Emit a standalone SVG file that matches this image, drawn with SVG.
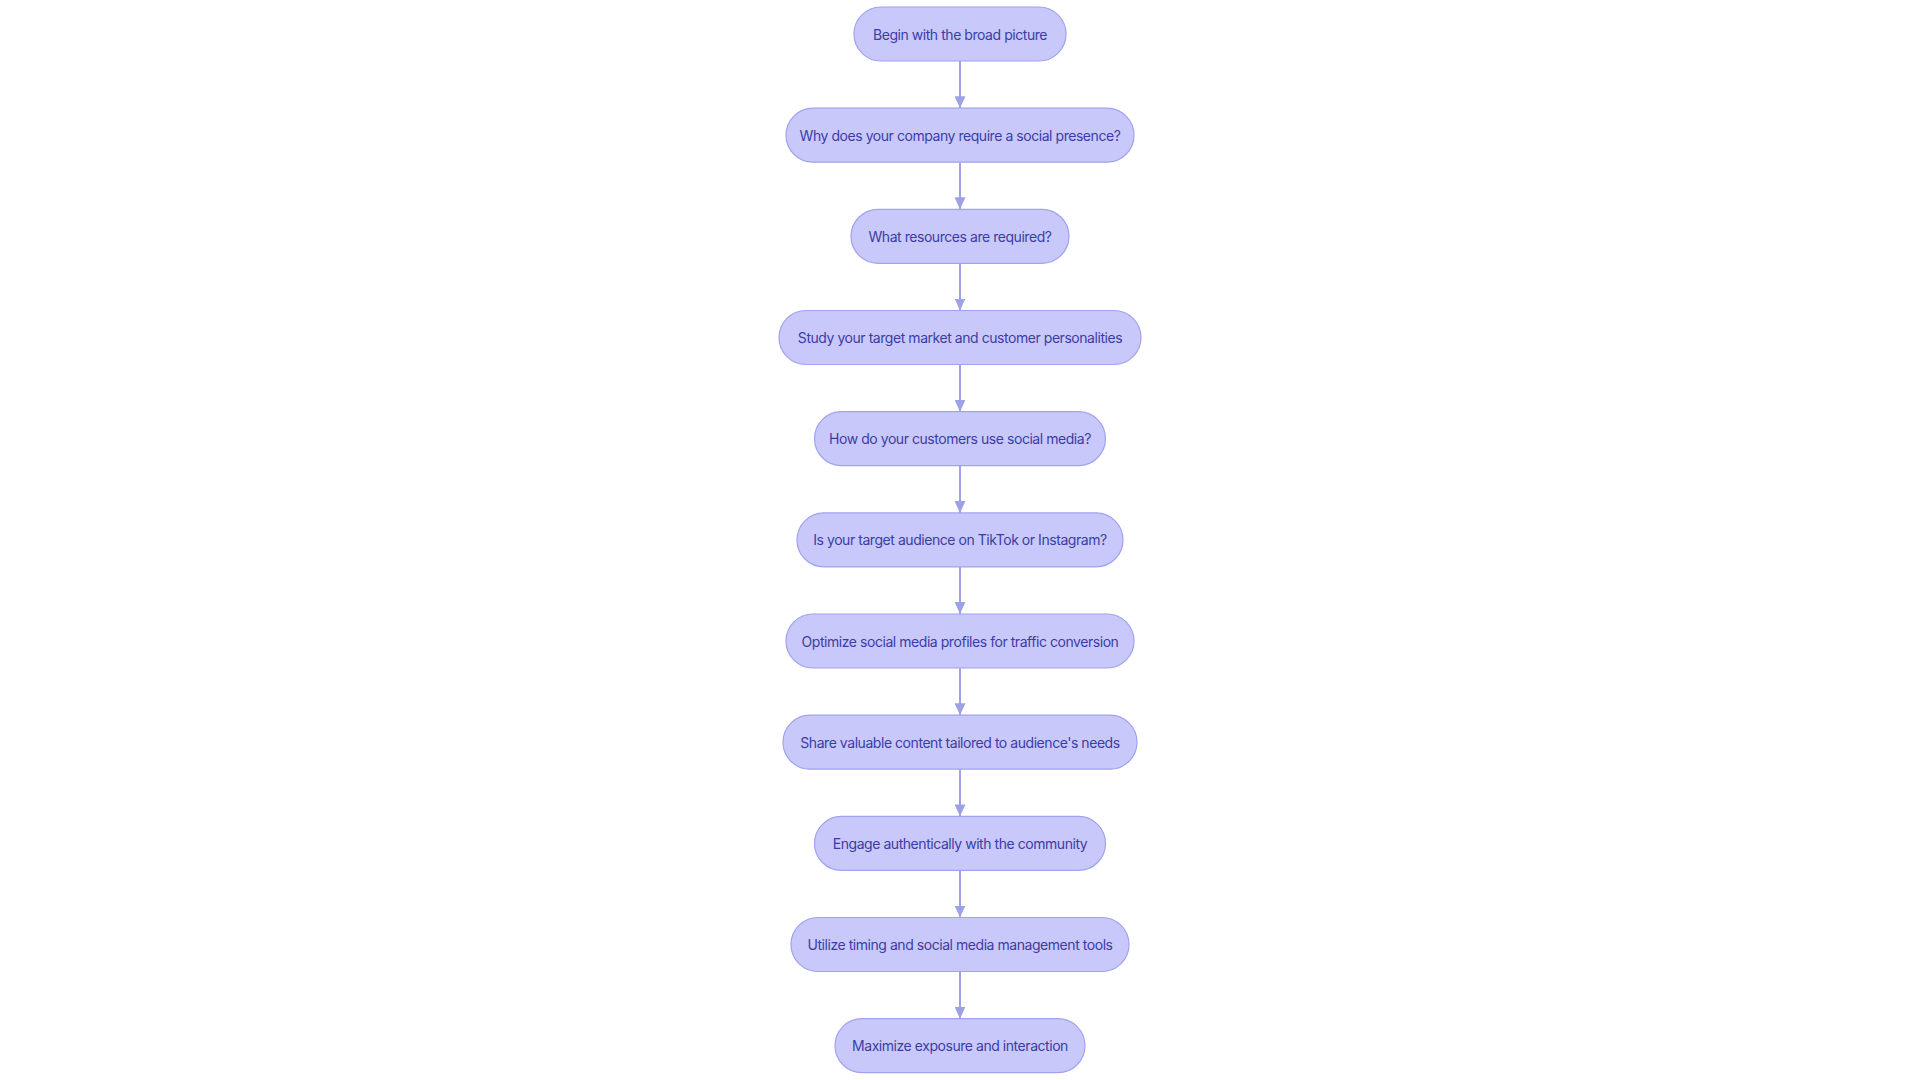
<svg xmlns="http://www.w3.org/2000/svg" width="1920" height="1080" viewBox="0 0 1920 1080">
<defs>
<style>
.node rect{fill:#c8c9fa;stroke:#9fa2ee;stroke-width:1.2}
.node text{font-family:Inter,"Noto Sans",sans-serif;font-size:14px;letter-spacing:-0.45px;fill:#3c3ca6;text-anchor:middle;dominant-baseline:central}
.edge{stroke:#9fa1e6;stroke-width:2;fill:none}
</style>
<marker id="arr" viewBox="0 0 12 11" refX="12" refY="5.5" markerWidth="12" markerHeight="11" markerUnits="userSpaceOnUse" orient="auto">
<path d="M0,0 L12,5.5 L0,11 Z" fill="#9fa1e6"/>
</marker>
</defs>
<rect width="1920" height="1080" fill="#ffffff"/>
<g id="connectors">
<line class="edge" x1="960" y1="61" x2="960" y2="108.2" marker-end="url(#arr)"/>
<line class="edge" x1="960" y1="162.2" x2="960" y2="209.3" marker-end="url(#arr)"/>
<line class="edge" x1="960" y1="263.3" x2="960" y2="310.5" marker-end="url(#arr)"/>
<line class="edge" x1="960" y1="364.5" x2="960" y2="411.7" marker-end="url(#arr)"/>
<line class="edge" x1="960" y1="465.7" x2="960" y2="512.9" marker-end="url(#arr)"/>
<line class="edge" x1="960" y1="566.9" x2="960" y2="614" marker-end="url(#arr)"/>
<line class="edge" x1="960" y1="668" x2="960" y2="715.2" marker-end="url(#arr)"/>
<line class="edge" x1="960" y1="769.2" x2="960" y2="816.4" marker-end="url(#arr)"/>
<line class="edge" x1="960" y1="870.4" x2="960" y2="917.5" marker-end="url(#arr)"/>
<line class="edge" x1="960" y1="971.5" x2="960" y2="1018.7" marker-end="url(#arr)"/>
</g>
<g id="n1" class="node"><rect x="854" y="7" width="212" height="54" rx="27"/><text x="960" y="34">Begin with the broad picture</text></g>
<g id="n2" class="node"><rect x="786" y="108.2" width="348" height="54" rx="27"/><text x="960" y="135.2">Why does your company require a social presence?</text></g>
<g id="n3" class="node"><rect x="851" y="209.3" width="218" height="54" rx="27"/><text x="960" y="236.3">What resources are required?</text></g>
<g id="n4" class="node"><rect x="779" y="310.5" width="362" height="54" rx="27"/><text x="960" y="337.5">Study your target market and customer personalities</text></g>
<g id="n5" class="node"><rect x="814.5" y="411.7" width="291" height="54" rx="27"/><text x="960" y="438.7">How do your customers use social media?</text></g>
<g id="n6" class="node"><rect x="797" y="512.9" width="326" height="54" rx="27"/><text x="960" y="539.9">Is your target audience on TikTok or Instagram?</text></g>
<g id="n7" class="node"><rect x="786" y="614" width="348" height="54" rx="27"/><text x="960" y="641">Optimize social media profiles for traffic conversion</text></g>
<g id="n8" class="node"><rect x="783" y="715.2" width="354" height="54" rx="27"/><text x="960" y="742.2">Share valuable content tailored to audience's needs</text></g>
<g id="n9" class="node"><rect x="814.5" y="816.4" width="291" height="54" rx="27"/><text x="960" y="843.4">Engage authentically with the community</text></g>
<g id="n10" class="node"><rect x="791" y="917.5" width="338" height="54" rx="27"/><text x="960" y="944.5">Utilize timing and social media management tools</text></g>
<g id="n11" class="node"><rect x="835" y="1018.7" width="250" height="54" rx="27"/><text x="960" y="1045.7">Maximize exposure and interaction</text></g>
</svg>
